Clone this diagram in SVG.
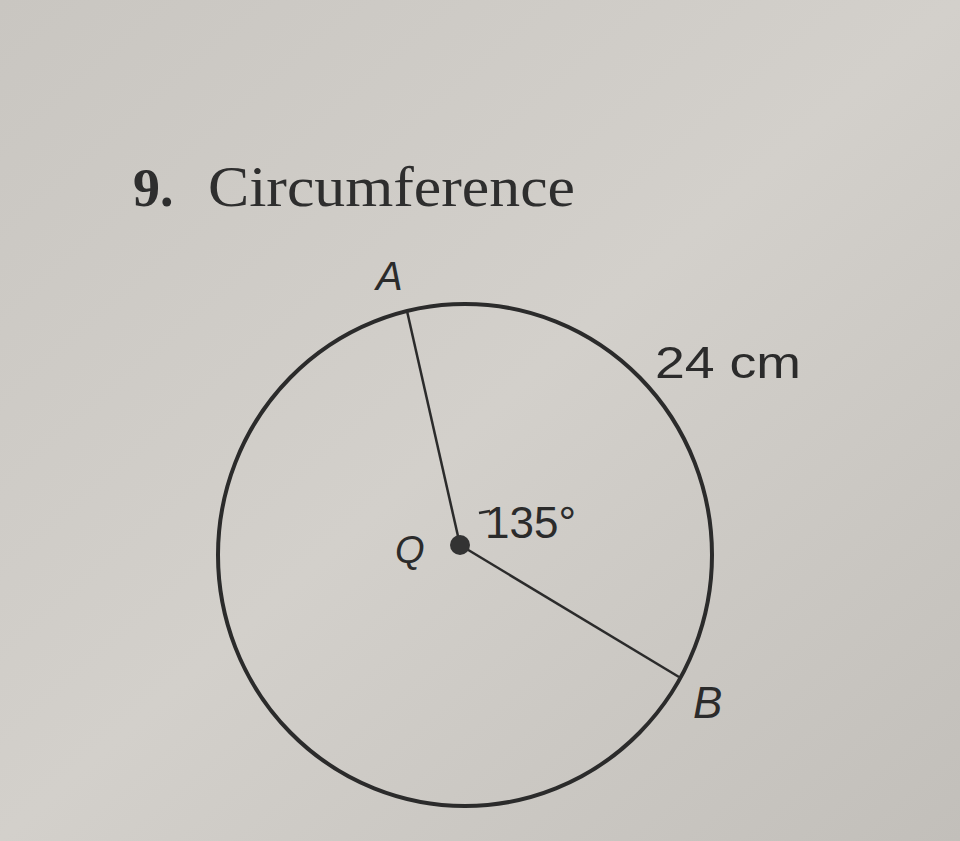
<svg xmlns="http://www.w3.org/2000/svg" width="960" height="841" viewBox="0 0 960 841">
<defs>
<linearGradient id="paper" x1="0" y1="0" x2="1" y2="1">
<stop offset="0" stop-color="#c9c6c1"/>
<stop offset="0.5" stop-color="#d3d0cb"/>
<stop offset="1" stop-color="#c2bfba"/>
</linearGradient>
<style>
.lbl{font-family:"Liberation Sans",Arial,sans-serif;fill:#2b2b2b}
.it{font-style:italic}
.ttl{font-family:"Liberation Serif","Times New Roman",serif;fill:#2e2e2e}
.edge{stroke:#2b2b2b;fill:none}
</style>
</defs>
<rect width="960" height="841" fill="url(#paper)"/>
<g id="title">
<text class="ttl" x="133" y="206" font-size="54" font-weight="bold">9.</text>
<text class="ttl" x="208" y="206" font-size="58" textLength="367" lengthAdjust="spacingAndGlyphs">Circumference</text>
</g>
<g id="circle">
<ellipse cx="465" cy="555" rx="247" ry="251" fill="none" stroke="#2b2b2b" stroke-width="4"/>
</g>
<g id="connectors">
<line class="edge" x1="460" y1="545" x2="407" y2="311" stroke-width="2.5"/>
<line class="edge" x1="460" y1="545" x2="679" y2="677" stroke-width="2.5"/>
<line class="edge" x1="479" y1="513" x2="490" y2="511" stroke-width="2.5"/>
</g>
<g id="Q">
<circle cx="460" cy="545" r="10" fill="#333"/>
<text class="lbl it" x="395" y="563" font-size="38">Q</text>
</g>
<g id="A"><text class="lbl it" x="376" y="290" font-size="40">A</text></g>
<g id="B"><text class="lbl it" x="693" y="718" font-size="44">B</text></g>
<g id="arc-label"><text class="lbl" x="655" y="378" font-size="44" textLength="146" lengthAdjust="spacingAndGlyphs">24 cm</text></g>
<g id="angle-label"><text class="lbl" x="485" y="538" font-size="44">135°</text></g>
</svg>
